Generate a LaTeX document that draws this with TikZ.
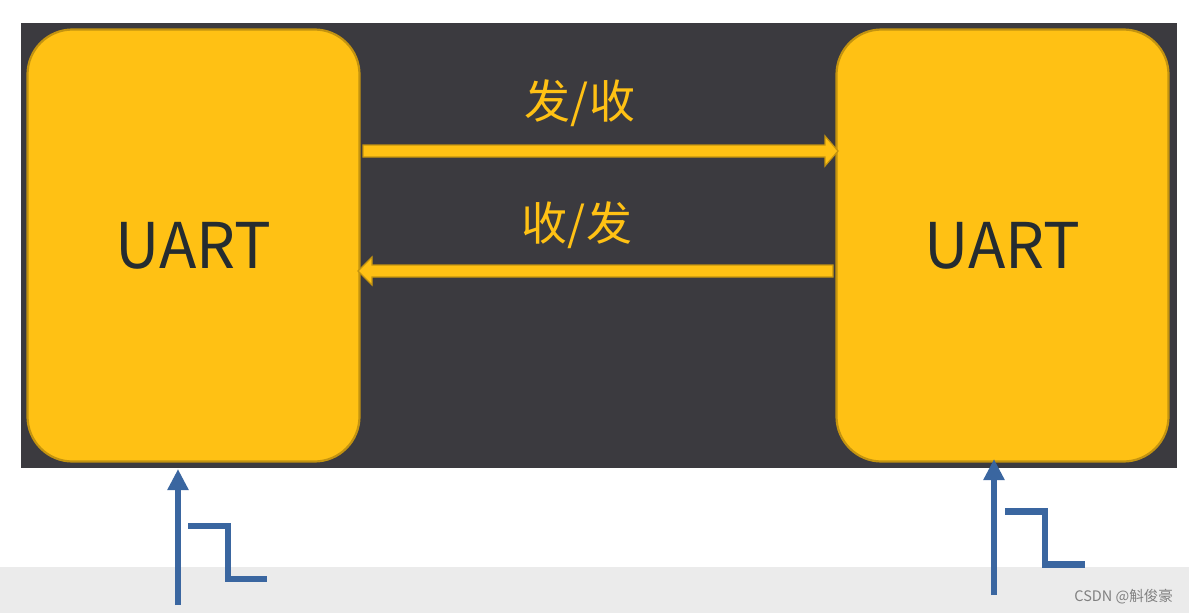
\documentclass[tikz,border=0pt]{standalone}
\usepackage{fontspec}
\setmainfont{Noto Sans CJK SC}
\usetikzlibrary{arrows.meta}
\definecolor{bgdark}{HTML}{3B3A3F}
\definecolor{gold}{HTML}{FFC114}
\definecolor{golddk}{HTML}{C39310}
\definecolor{txtdk}{HTML}{252C30}
\definecolor{sigblue}{HTML}{3A66A0}
\definecolor{band}{HTML}{EBEBEB}
\tikzset{
  uartbox/.style={draw=golddk, line width=2.2pt, fill=gold, rounded corners=45pt,
    minimum width=332pt, minimum height=432pt, inner sep=0pt,
    font=\fontsize{63}{63}\selectfont, text=txtdk},
  blockarrow/.style={draw=golddk, line width=1.2pt, fill=gold, line join=miter},
  dirlabel/.style={font=\fontsize{46}{46}\selectfont, text=gold, inner sep=0pt},
  sigarrow/.style={draw=sigblue, line width=6.5pt, -{Triangle[width=20pt,length=21pt]}},
  sigwave/.style={draw=sigblue, line width=6.5pt, line join=miter},
}
\begin{document}
\begin{tikzpicture}[x=1pt,y=-1pt]
\useasboundingbox (0,0) rectangle (1189,613);
\fill[white] (0,0) rectangle (1189,613);
\fill[band] (0,567) rectangle (1189,613);
\fill[bgdark] (21,23) rectangle (1177,468);
\node[uartbox] (L) at (193.5,245.5) {\scalebox{0.975}[1]{UART}};
\node[uartbox] (R) at (1002.5,245.5) {\scalebox{0.975}[1]{UART}};
% block arrows
\draw[blockarrow] (363,145) -- (825,145) -- (825,136) -- (838,151) -- (825,166) -- (825,157) -- (363,157) -- cycle;
\draw[blockarrow] (833,265) -- (372,265) -- (372,257) -- (358,271) -- (372,285) -- (372,277) -- (833,277) -- cycle;
\node[dirlabel] (t1) at (580,103) {发/收};
\node[dirlabel] (t2) at (577,225) {收/发};
% signals
\coordinate (la0) at (178,605);
\coordinate (la1) at (178,469);
\draw[sigarrow] (la0) -- (la1);
\draw[sigwave] (188,526) -- (228,526) -- (228,579) -- (267,579);
\coordinate (ra0) at (994,595);
\coordinate (ra1) at (994,459);
\draw[sigarrow] (ra0) -- (ra1);
\draw[sigwave] (1005,511.5) -- (1045,511.5) -- (1045,564.5) -- (1085,564.5);
\node[text=black!50, font=\fontsize{14.5}{14.5}\selectfont, anchor=east, inner sep=0pt] (wm) at (1173,597) {CSDN @斛俊豪};
\end{tikzpicture}
\end{document}
